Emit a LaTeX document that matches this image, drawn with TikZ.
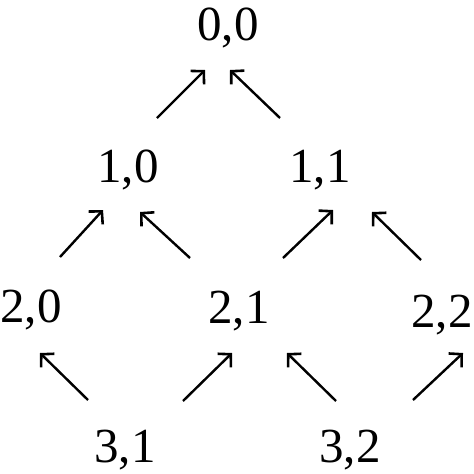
\documentclass[tikz,border=0pt]{standalone}
\usepackage{fontspec}
\setmainfont{Liberation Serif}
\usetikzlibrary{arrows.meta,calc}
\begin{document}
\begin{tikzpicture}[x=1pt,y=1pt,
  lbl/.style={anchor=base,inner sep=0pt,font=\fontsize{49}{49}\selectfont},
  arr/.style={line width=2.4pt,-{Straight Barb[length=9pt,width=19pt,line width=2.6pt]}}]
\useasboundingbox (0,0) rectangle (474,-474);
\node[lbl] (n00) at (228,-40) {0,0};
\node[lbl] (n10) at (128,-182) {1,0};
\node[lbl] (n11) at (320,-182) {1,1};
\node[lbl] (n20) at (31,-322) {2,0};
\node[lbl] (n21) at (239,-323) {2,1};
\node[lbl] (n22) at (442,-327) {2,2};
\node[lbl] (n31) at (125,-462) {3,1};
\node[lbl] (n32) at (350,-462) {3,2};
\draw[arr] ($(n10.base)+(29,64)$) -- ($(n00.base)+(-23,-30)$);
\draw[arr] ($(n11.base)+(-40,64)$) -- ($(n00.base)+(2,-30)$);
\draw[arr] ($(n20.base)+(29,65)$) -- ($(n10.base)+(-25,-28)$);
\draw[arr] ($(n21.base)+(-49,65)$) -- ($(n10.base)+(12,-30)$);
\draw[arr] ($(n21.base)+(44,65)$) -- ($(n11.base)+(13,-28)$);
\draw[arr] ($(n22.base)+(-21,67)$) -- ($(n11.base)+(52,-30)$);
\draw[arr] ($(n31.base)+(-37,62)$) -- ($(n20.base)+(9,-31)$);
\draw[arr] ($(n31.base)+(58,61)$) -- ($(n21.base)+(-7,-30)$);
\draw[arr] ($(n32.base)+(-14,61)$) -- ($(n21.base)+(48,-30)$);
\draw[arr] ($(n32.base)+(63,62)$) -- ($(n22.base)+(21,-26)$);
\end{tikzpicture}
\end{document}
